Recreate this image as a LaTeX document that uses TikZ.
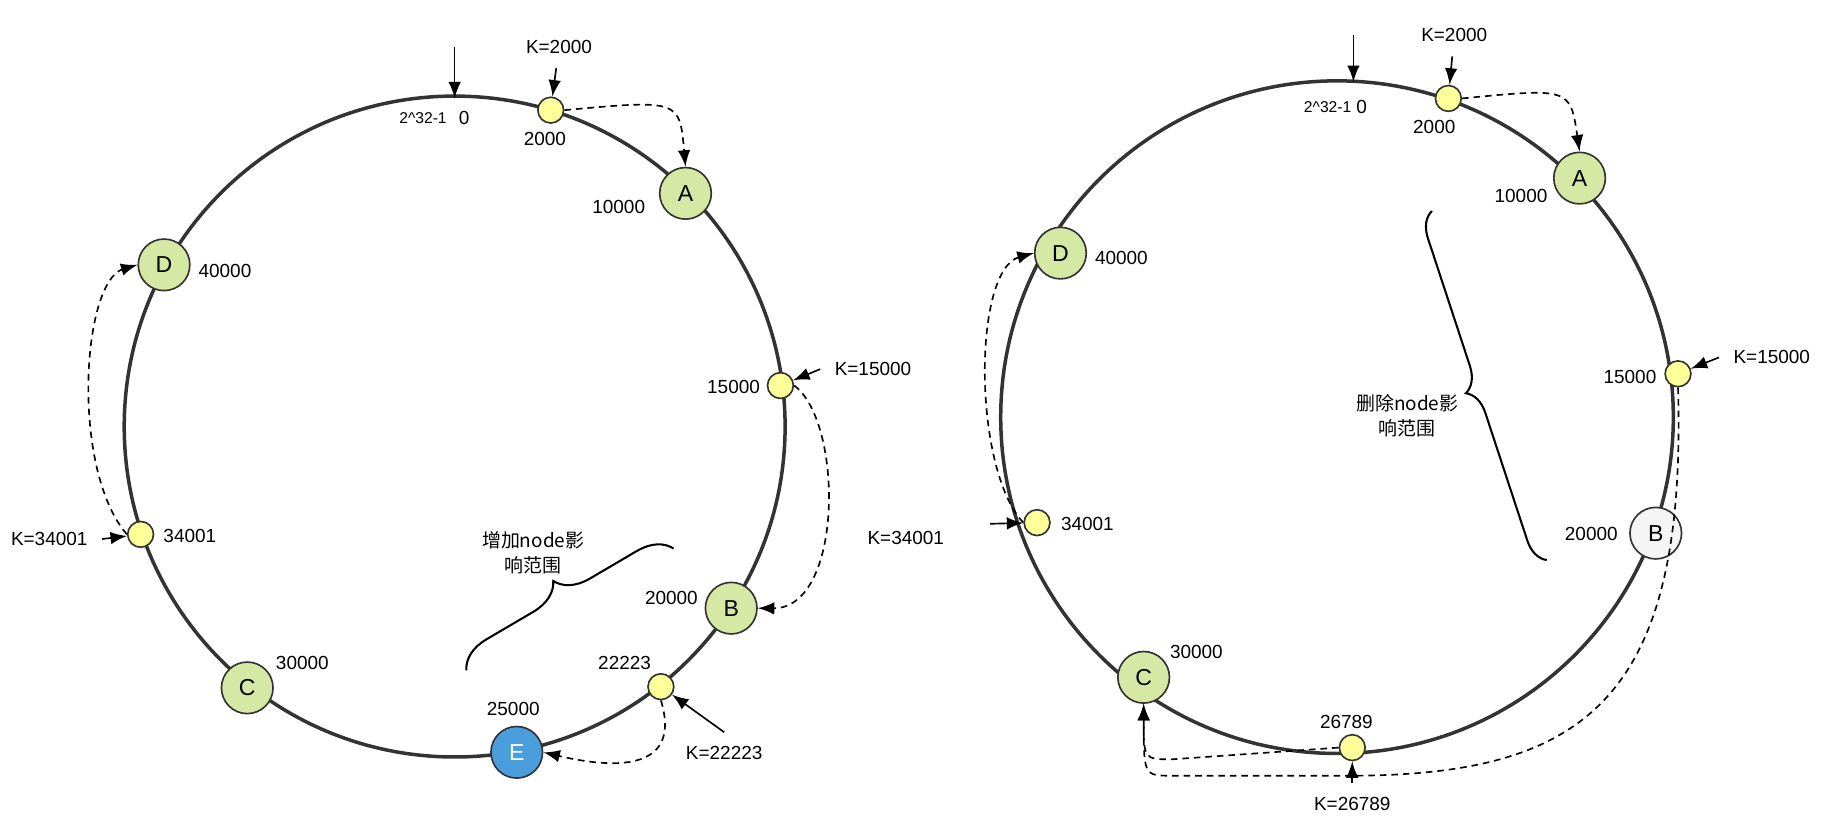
\documentclass[tikz,border=0pt]{standalone}
\usepackage{fontspec}
\setmainfont{Liberation Sans}
\newfontfamily\cjk{Noto Sans CJK SC}
\usetikzlibrary{positioning,decorations.pathreplacing}
\definecolor{ngreen}{HTML}{D5E8A4}
\definecolor{nblue}{HTML}{4A9EDC}
\definecolor{ngrey}{HTML}{F5F5F5}
\definecolor{kyel}{HTML}{FFFF99}
\tikzset{
    ring/.style={draw=black!80,line width=0.85pt},
    srv/.style={circle,draw=black!80,fill=ngreen,minimum size=0.44cm,inner sep=0pt,font=\fontsize{5.6}{6}\selectfont},
    key/.style={circle,draw=black!80,fill=kyel,minimum size=0.22cm,inner sep=0pt},
    lbl/.style={font=\fontsize{4.6}{5}\selectfont},
    ptr/.style={-latex,line width=0.4pt},
    hop/.style={-latex,dash pattern=on 1.6pt off 1.2pt,line width=0.4pt}
}
\begin{document}
\begin{tikzpicture}[x=0.01cm,y=-0.01cm]
    \useasboundingbox (0,0) rectangle (1560,697);
    % left ring
    \draw[ring] (388,364) circle (282);
    \coordinate (top1) at (388,84);
    \draw[ptr] (388,40) -- (top1);
    \node[lbl,font=\fontsize{3.8}{4}\selectfont] at (361,101) {2\^{}32-1};
    \node[lbl] at (396,101) {0};
    \node[key] (k2000) at (470,94) {};
    \node[lbl] at (465,119) {2000};
    \node[lbl] (t2000) at (477,40) {K=2000};
    \draw[ptr] (t2000) -- (k2000);
    \node[srv] (A) at (585,165) {A};
    \node[lbl] at (528,177) {10000};
    \node[srv] (D) at (140,226) {D};
    \node[lbl] at (192,231) {40000};
    \node[key] (k15000) at (666,329) {};
    \node[lbl] at (626,330) {15000};
    \node[lbl] (t15000) at (745,315) {K=15000};
    \draw[ptr] (t15000.west) -- (k15000);
    \node[key] (k34001) at (120,456) {};
    \node[lbl] at (162,457) {34001};
    \node[lbl] (t34001) at (42,460) {K=34001};
    \draw[ptr] (t34001.east) -- (k34001);
    \node[lbl] at (773,459) {K=34001};
    \node[srv] (B) at (624,519) {B};
    \node[lbl] at (573,510) {20000};
    \node[key] (k22223) at (564,586) {};
    \node[lbl] at (533,566) {22223};
    \node[lbl] (t22223) at (618,643) {K=22223};
    \draw[ptr] (t22223.north) -- (k22223);
    \node[srv] (C) at (211,587) {C};
    \node[lbl] at (258,566) {30000};
    \node[srv,fill=nblue,text=white] (E) at (441,642) {E};
    \node[lbl] at (438,605) {25000};
    \draw[hop] (k2000.east) .. controls (580,85) .. (A.north);
    \draw[hop] (k15000.east) .. controls (720,360) and (720,520) .. (B.east);
    \draw[hop] (k34001.west) .. controls (60,400) and (70,240) .. (D.west);
    \draw[hop] (k22223.south) .. controls (580,650) and (540,660) .. (E.east);
    \draw[decorate,decoration={brace,amplitude=8pt},line width=0.5pt] (398,572) -- (575,468);
    \node[lbl,align=center,font=\cjk\fontsize{4.6}{6}\selectfont] at (455,472) {增加node影\\响范围};
    % right ring
    \draw[ring] (1141,356) circle (287);
    \coordinate (top2) at (1155,70);
    \draw[ptr] (1155,30) -- (top2);
    \node[lbl,font=\fontsize{3.8}{4}\selectfont] at (1133,91) {2\^{}32-1};
    \node[lbl] at (1162,91) {0};
    \node[key] (r2000) at (1236,84) {};
    \node[lbl] at (1224,108) {2000};
    \node[lbl] (s2000) at (1241,30) {K=2000};
    \draw[ptr] (s2000) -- (r2000);
    \node[srv] (A2) at (1348,152) {A};
    \node[lbl] at (1298,167) {10000};
    \node[srv] (D2) at (905,216) {D};
    \node[lbl] at (957,220) {40000};
    \node[key] (r15000) at (1432,319) {};
    \node[lbl] at (1391,322) {15000};
    \node[lbl] (s15000) at (1512,305) {K=15000};
    \draw[ptr] (s15000.west) -- (r15000);
    \node[key] (r34001) at (885,446) {};
    \node[lbl] at (928,447) {34001};
    \coordinate (s34001) at (845,447);
    \draw[ptr] (s34001) -- (r34001);
    \node[srv,fill=ngrey] (B2) at (1413,455) {B};
    \node[lbl] at (1358,456) {20000};
    \node[srv] (C2) at (976,578) {C};
    \node[lbl] at (1021,556) {30000};
    \node[key] (r26789) at (1154,638) {};
    \node[lbl] at (1149,616) {26789};
    \node[lbl] (s26789) at (1154,686) {K=26789};
    \draw[ptr] (s26789.north) -- (r26789);
    \draw[hop] (r2000.east) .. controls (1340,75) .. (A2.north);
    \draw[hop] (r34001.west) .. controls (830,400) and (830,230) .. (D2.west);
    \draw[hop] (r15000.south) .. controls (1440,600) and (1350,662) .. (1150,662) -- (1000,662) .. controls (976,662) .. (C2.south);
    \draw[hop] (r26789.west) -- (1000,648) .. controls (976,648) .. (C2.south);
    \draw[decorate,decoration={brace,amplitude=6pt,mirror},line width=0.5pt] (1222,180) -- (1320,478);
    \node[lbl,align=center,font=\cjk\fontsize{4.6}{6}\selectfont] at (1201,355) {删除node影\\响范围};
\end{tikzpicture}
\end{document}
